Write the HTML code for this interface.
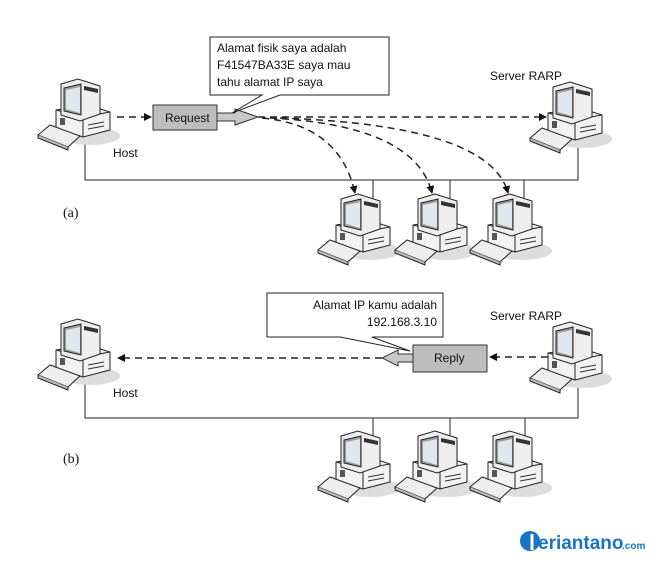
<!DOCTYPE html>
<html><head><style>
body{margin:0;background:#fff}
svg{display:block}
text{font-family:"Liberation Sans",sans-serif;font-size:12px;fill:#111}
</style></head><body>
<svg width="650" height="561" viewBox="0 0 650 561" xmlns="http://www.w3.org/2000/svg">
<defs>
<marker id="ah" markerWidth="8" markerHeight="8" refX="7" refY="4" orient="auto" markerUnits="userSpaceOnUse">
<path d="M0,0 L8,4 L0,8 z" fill="#111"/></marker>
<g id="pc">
<ellipse cx="52" cy="56" rx="30" ry="9" fill="#ddd"/>
<path d="M18,30 L50,25 L72,32 L72,50 L45,57 L18,48 z" fill="#f2f2f2" stroke="#222" stroke-width="1"/>
<path d="M18,30 L45,37 L72,32" fill="none" stroke="#222" stroke-width="1"/>
<path d="M45,37 L45,57" stroke="#222"/>
<rect x="22" y="38" width="5" height="7" fill="#555"/>
<path d="M50,45 L66,42 M50,49 L66,46" stroke="#333"/>
<path d="M23,4 L40,-1 L62,6 L62,34 L42,41 L23,35 z" fill="#eee" stroke="#222"/>
<path d="M26,8 L43,4 L43,35 L26,31 z" fill="#9a9a9a" stroke="#222"/>
<path d="M28,10 L42,7 L42,33 L28,29 z" fill="#dfe6ee"/>
<path d="M46,6 L60,9 L60,13 L46,10 z" fill="#333"/>
<path d="M0,55 L12,45 L42,56 L30,67 z" fill="#eee" stroke="#222"/>
<path d="M30,67 L30,70 L0,58 L0,55" fill="#bbb" stroke="#222"/>
</g>
</defs>

<!-- (a) -->
<path d="M85,135 V180 H578 V138" fill="none" stroke="#222"/>
<path d="M373,180 V198 M450,180 V198 M524,180 V198" stroke="#222"/>
<use href="#pc" x="38" y="80"/>
<use href="#pc" x="530" y="83"/>
<use href="#pc" x="318" y="195"/>
<use href="#pc" x="395" y="195"/>
<use href="#pc" x="470" y="195"/>
<line x1="117" y1="117" x2="151" y2="117" stroke="#222" stroke-width="1.5" stroke-dasharray="7,5" marker-end="url(#ah)"/>
<rect x="153" y="105" width="64" height="25" fill="#bdbdbd" stroke="#333"/>
<text x="165" y="122">Request</text>
<path d="M217,113 H235 V109 L258,117 L235,125 V121 H217 z" fill="#c8c8c8" stroke="#333"/>
<line x1="258" y1="117" x2="546" y2="117" stroke="#222" stroke-width="1.5" stroke-dasharray="7,5" marker-end="url(#ah)"/>
<path d="M262,118 Q340,125 355,193" fill="none" stroke="#222" stroke-width="1.5" stroke-dasharray="7,5" marker-end="url(#ah)"/>
<path d="M270,118 Q415,125 432,193" fill="none" stroke="#222" stroke-width="1.5" stroke-dasharray="7,5" marker-end="url(#ah)"/>
<path d="M280,118 Q490,125 508,193" fill="none" stroke="#222" stroke-width="1.5" stroke-dasharray="7,5" marker-end="url(#ah)"/>
<path d="M210,37 H389 V95 H280 L232,113 L262,95 H210 z" fill="#fff" stroke="#222"/>
<text x="217" y="52">Alamat fisik saya adalah</text>
<text x="217" y="69">F41547BA33E saya mau</text>
<text x="217" y="86">tahu alamat IP saya</text>
<text x="490" y="80">Server RARP</text>
<text x="113" y="157">Host</text>
<text x="63" y="217" style="font-family:'Liberation Serif',serif;font-size:14px">(a)</text>

<!-- (b) -->
<path d="M85,375 V418 H578 V375" fill="none" stroke="#222"/>
<path d="M373,418 V436 M450,418 V436 M525,418 V436" stroke="#222"/>
<use href="#pc" x="38" y="320"/>
<use href="#pc" x="530" y="323"/>
<use href="#pc" x="318" y="432"/>
<use href="#pc" x="395" y="432"/>
<use href="#pc" x="470" y="432"/>
<line x1="548" y1="357" x2="490" y2="357" stroke="#222" stroke-width="1.5" stroke-dasharray="7,5" marker-end="url(#ah)"/>
<rect x="413" y="345" width="74" height="27" fill="#bdbdbd" stroke="#333"/>
<text x="434" y="362">Reply</text>
<path d="M413,354 H398 V350 L382,358 L398,366 V362 H413 z" fill="#c8c8c8" stroke="#333"/>
<line x1="382" y1="358" x2="118" y2="358" stroke="#222" stroke-width="1.5" stroke-dasharray="7,5" marker-end="url(#ah)"/>
<path d="M267,293 H443 V337 H372 L410,351 L340,337 H267 z" fill="#fff" stroke="#222"/>
<text x="437" y="309" text-anchor="end">Alamat IP kamu adalah</text>
<text x="437" y="326" text-anchor="end">192.168.3.10</text>
<text x="490" y="320">Server RARP</text>
<text x="113" y="397">Host</text>
<text x="63" y="463" style="font-family:'Liberation Serif',serif;font-size:14px">(b)</text>

<!-- logo -->
<circle cx="530" cy="541" r="10" fill="#1a73c9"/>
<path d="M532,534 V550" stroke="#fff" stroke-width="3"/>
<text x="538" y="549" style="font-size:19px;font-weight:bold;fill:#1a73c9">eriantano</text>
<text x="622" y="549" style="font-size:10px;font-weight:bold;fill:#1a73c9">.com</text>
</svg>
</body></html>
